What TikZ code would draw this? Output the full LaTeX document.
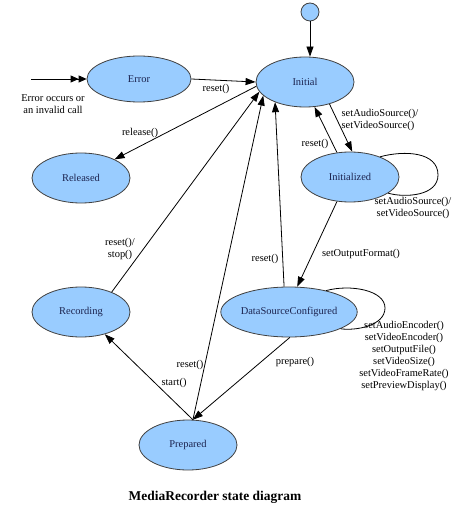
\documentclass[tikz,border=0pt]{standalone}
\usepackage{fontspec}
\setmainfont{Liberation Serif}
\usetikzlibrary{shapes, arrows.meta}
\definecolor{skyblue}{HTML}{99CCFF}
\definecolor{navytext}{HTML}{1C2450}

\begin{document}
\begin{tikzpicture}[x=1bp, y=-1bp, >={Triangle[length=10bp, width=7bp]},
  state/.style={ellipse, fill=skyblue, draw=black!75, inner sep=0pt, minimum width=98bp, minimum height=50bp, text=navytext, font=\fontsize{10.5}{12}\selectfont},
  lbl/.style={inner sep=0pt, align=center, font=\fontsize{10.5}{12}\selectfont},
  every path/.style={line width=0.8bp}]
  \fill[white] (0,0) rectangle (474,515);
  \useasboundingbox (0,0) rectangle (474,515);
  % states
  \node[circle, fill=skyblue, draw=black!75, minimum size=18bp, inner sep=0pt] (start) at (310,12) {};
  \node[state] (init) at (305,82) {Initial};
  \node[state, minimum width=104bp, minimum height=46bp] (err) at (139,79) {Error};
  \node[state] (rel) at (81,178) {Released};
  \node[state] (inz) at (350,177) {Initialized};
  \node[state] (rec) at (81,312) {Recording};
  \node[state, minimum width=108bp] (dsc) at (289,312) {DataSourceConfigured};
  \node[state] (prep) at (188,445) {Prepared};
  \coordinate (ext) at (31,79);
  % transitions
  \draw[->] (start) -- (start |- init.north);
  \draw[-{Triangle[length=8bp, width=7bp]Triangle[length=8bp, width=7bp]}] (ext) -- (err.west);
  \draw[->] (err.east) -- (init.west);
  \draw[->] (init.185) -- (rel.29);
  \draw[->] (rec.33) -- (init.192);
  \draw[->] (prep.79) -- (init.198);
  \draw[->] (dsc.101) -- (init.214);
  \draw[->] (init.318) -- (inz.85);
  \draw[->] (inz.118) -- (init.291);
  \draw (inz.34) .. controls (405,150) and (438,152) .. (438,175) .. controls (438,196) and (405,198) .. (inz.-23);
  \draw[->] (inz.242) -- (dsc.72);
  \draw (dsc.30) .. controls (350,284) and (385,290) .. (385,308) .. controls (385,326) and (355,331) .. (dsc.-18);
  \draw[->] (dsc.272) -- (prep.79);
  \draw[->] (prep.79) -- (rec.317);
  % labels
  \node[lbl] (l1) at (53,104) {Error occurs or\\an invalid call};
  \node[lbl] (l2) at (216,89) {reset()};
  \node[lbl] (l3) at (140,133) {release()};
  \node[lbl, align=left] (l4) at (380,120) {setAudioSource()/\\setVideoSource()};
  \node[lbl] (l5) at (315,144) {reset()};
  \node[lbl] (l6) at (413,208) {setAudioSource()/\\setVideoSource()};
  \node[lbl] (l7) at (361,254) {setOutputFormat()};
  \node[lbl] (l8) at (265,259) {reset()};
  \node[lbl] (l9) at (120,249) {reset()/\\stop()};
  \node[lbl] (l10) at (404,356) {setAudioEncoder()\\setVideoEncoder()\\setOutputFile()\\setVideoSize()\\setVideoFrameRate()\\setPreviewDisplay()};
  \node[lbl] (l11) at (295,362) {prepare()};
  \node[lbl] (l12) at (190,365) {reset()};
  \node[lbl] (l13) at (174,383) {start()};
  \node[font=\bfseries\fontsize{13.5}{16}\selectfont] (title) at (215,497) {MediaRecorder state diagram};
\end{tikzpicture}
\end{document}
